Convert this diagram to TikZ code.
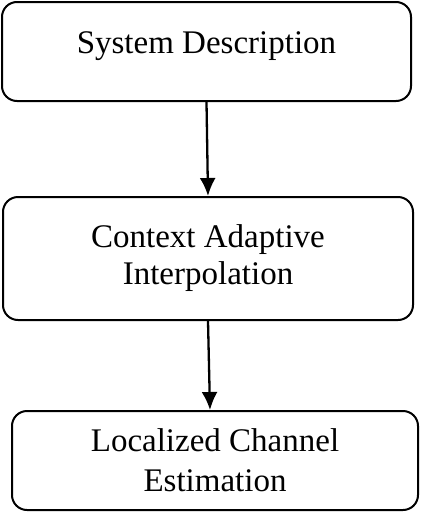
\documentclass[tikz,border=0pt]{standalone}
\usepackage{fontspec}
\setmainfont{Liberation Serif}
\usetikzlibrary{arrows.meta}

\begin{document}
\begin{tikzpicture}[
                  x = 1pt, y = 1pt,
      every node/.style = {draw, line width=2pt, rounded corners=15pt, align=center,
                           font=\fontsize{33}{37}\selectfont, inner sep=0pt},
        stage/.style = {minimum height=99pt},
        flow/.style = {draw, line width=2.3pt, -{Latex[length=18pt,width=16pt]}},
                     ]
\useasboundingbox (0,0) rectangle (424,-512);
\node[stage, minimum width=409pt, text depth=17pt] (sys) at (206.5,-51.5) {System Description};
\node[stage, minimum width=410pt, minimum height=123pt] (ctx) at (208,-258.5)
    {Context Adaptive\\Interpolation};
\node[stage, minimum width=406pt, font=\fontsize{33}{40}\selectfont] (loc) at (215,-460.5)
    {Localized Channel\\Estimation};
% connectors
\draw[flow] (sys.south) -- (ctx.north);
\draw[flow] (ctx.south) -- ([xshift=-5pt]loc.north);
\end{tikzpicture}
\end{document}
